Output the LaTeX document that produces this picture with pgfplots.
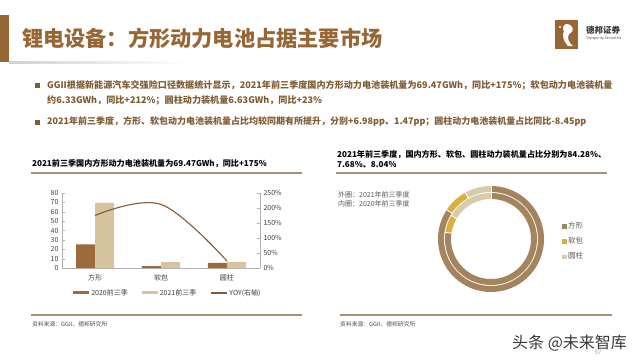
\documentclass[border=0pt]{standalone}
\usepackage{fontspec}
\setmainfont{Noto Sans CJK SC}
\usepackage{pgfplots}
\pgfplotsset{compat=1.18}
\usepackage{pgfplotstable}
\definecolor{titlebrown}{RGB}{150,102,52}
\definecolor{bartwenty}{RGB}{156,106,60}
\definecolor{bartwentyone}{RGB}{214,196,158}
\definecolor{yoyline}{RGB}{130,90,55}
\definecolor{sqc}{RGB}{163,132,94}
\definecolor{softc}{RGB}{218,175,62}
\definecolor{cylc}{RGB}{215,203,170}
\definecolor{bullettext}{RGB}{128,92,52}
\definecolor{rulec}{RGB}{165,145,120}
\newcommand\fs[1]{\fontsize{#1}{#1}\selectfont}

\pgfplotstableread{
cat y2020 y2021 yoy
0 25.26 69.47 175
1 2.03 6.33 212
2 5.39 6.63 23
}\installdata

\begin{document}
\begin{tikzpicture}
\fill[white] (0pt,0pt) rectangle (640pt,-360pt);
% title block
\fill[titlebrown] (0pt,-15pt) rectangle (9pt,-62pt);
\shade[left color=black!18, right color=white] (9pt,-61pt) rectangle (190pt,-63pt);
\node[anchor=west, inner sep=0pt, text=titlebrown, font=\fs{21.2}\bfseries] at (22pt,-38pt) {锂电设备：方形动力电池占据主要市场};
% logo
\fill[titlebrown] (555pt,-20pt) rectangle (578pt,-49pt);
\fill[white] (560pt,-27pt) circle (1.2pt);
\fill[white] (566pt,-24pt) .. controls (574pt,-24pt) and (575pt,-32pt) .. (569pt,-34pt) .. controls (566pt,-38pt) and (570pt,-44pt) .. (573pt,-46pt) -- (568pt,-46pt) .. controls (563pt,-41pt) and (562pt,-35pt) .. (564pt,-31pt) .. controls (562pt,-29pt) and (563pt,-25pt) .. cycle;
\node[anchor=west, inner sep=0pt, text=black!80, font=\fs{8.5}\bfseries] at (586pt,-30pt) {德邦证券};
\node[anchor=west, inner sep=0pt, text=black!70, font=\fs{3.6}] at (586pt,-39pt) {Topsperity Securities};
% bullets
\fill[bullettext] (35pt,-82.5pt) rectangle (40pt,-87.5pt);
\fill[bullettext] (35pt,-119.5pt) rectangle (40pt,-124.5pt);
\node[anchor=west, inner sep=0pt, text=bullettext, font=\fs{9.1}\bfseries] at (47pt,-85pt) {GGII根据新能源汽车交强险口径数据统计显示，2021年前三季度国内方形动力电池装机量为69.47GWh，同比+175\%；软包动力电池装机量};
\node[anchor=west, inner sep=0pt, text=bullettext, font=\fs{9.1}\bfseries] at (47pt,-100pt) {约6.33GWh，同比+212\%；圆柱动力装机量6.63GWh，同比+23\%};
\node[anchor=west, inner sep=0pt, text=bullettext, font=\fs{9.0}\bfseries] at (47pt,-122pt) {2021年前三季度，方形、软包动力电池装机量占比均较同期有所提升，分别+6.98pp、1.47pp；圆柱动力电池装机量占比同比-8.45pp};
% left panel header / footer
\node[anchor=west, inner sep=0pt, text=black, font=\fs{8.1}\bfseries] at (32pt,-164pt) {2021前三季国内方形动力电池装机量为69.47GWh，同比+175\%};
\draw[rulec, line width=1.5pt] (31pt,-173pt) -- (302pt,-173pt);
\draw[rulec, line width=1.5pt] (31pt,-315pt) -- (302pt,-315pt);
\node[anchor=west, inner sep=0pt, text=black!70, font=\fs{5.8}] at (32pt,-324pt) {资料来源：GGII、德邦研究所};
% right panel header / footer
\node[anchor=west, inner sep=0pt, text=black, font=\fs{8.1}\bfseries] at (337pt,-155pt) {2021年前三季度，国内方形、软包、圆柱动力装机量占比分别为84.28\%、};
\node[anchor=west, inner sep=0pt, text=black, font=\fs{8.1}\bfseries] at (337pt,-165pt) {7.68\%、8.04\%};
\draw[rulec, line width=1.5pt] (336pt,-173pt) -- (607pt,-173pt);
\draw[rulec, line width=1.5pt] (340pt,-315pt) -- (612pt,-315pt);
\node[anchor=west, inner sep=0pt, text=black!70, font=\fs{5.8}] at (340pt,-324pt) {资料来源：GGII、德邦研究所};
\node[anchor=west, inner sep=0pt, text=black!65, font=\fs{7}] at (338pt,-195pt) {外圈：2021年前三季度};
\node[anchor=west, inner sep=0pt, text=black!65, font=\fs{7}] at (338pt,-204pt) {内圈：2020年前三季度};
% watermark
\node[anchor=west, inner sep=0pt, text=black!78, font=\fs{16}] at (512pt,-343pt) {头条 @未来智库};
\node[anchor=center, inner sep=0pt, text=black!35, font=\fs{6}] at (598pt,-352pt) {97};

% left chart: bars
\begin{axis}[at={(62pt,-268pt)}, anchor=south west, scale only axis,
  width=198pt, height=75pt,
  xmin=-0.5, xmax=2.5, ymin=0, ymax=80,
  axis y line*=left, axis x line*=bottom,
  axis line style={draw=black!30, -},
  xtick={0,1,2}, xticklabels={方形,软包,圆柱},
  major x tick style={draw=none},
  ytick={0,10,...,80},
  y tick style={draw=black!30},
  tick align=inside, major tick length=3pt,
  tick label style={font=\fs{7}, text=black!75},
  /pgf/number format/assume math mode=true,
  ybar=0pt, bar width=19pt,
  legend style={at={(0.535,-0.333)}, anchor=center, legend columns=3,
    draw=none, fill=none, font=\fs{7}, text=black!75,
    /tikz/every even column/.append style={column sep=12pt}},
  ]
\addplot[fill=bartwenty, draw=none, bar shift=-9.5pt,
  legend image code/.code={\fill[bartwenty] (0pt,-1.5pt) rectangle (16pt,1.5pt);}]
  table[x=cat, y=y2020]{\installdata};
\addlegendentry{2020前三季}
\addplot[fill=bartwentyone, draw=none, bar shift=9.5pt,
  legend image code/.code={\fill[bartwentyone] (0pt,-1.5pt) rectangle (16pt,1.5pt);}]
  table[x=cat, y=y2021]{\installdata};
\addlegendentry{2021前三季}
\addlegendimage{legend image code/.code={\draw[yoyline, line width=1.1pt] (0pt,0pt) -- (16pt,0pt);}}
\addlegendentry{YOY(右轴)}
\end{axis}

% left chart: YOY line
\begin{axis}[at={(62pt,-268pt)}, anchor=south west, scale only axis,
  width=198pt, height=75pt,
  xmin=-0.5, xmax=2.5, ymin=0, ymax=250,
  axis y line*=right, axis x line=none,
  axis line style={draw=black!30, -},
  ytick={0,50,...,250},
  yticklabel={\pgfmathprintnumber{\tick}\%},
  y tick style={draw=black!30},
  tick align=inside, major tick length=3pt,
  tick label style={font=\fs{7}, text=black!75},
  /pgf/number format/assume math mode=true,
  ]
\addplot[yoyline, line width=1.1pt, smooth, tension=0.6, no markers] table[x=cat, y=yoy]{\installdata};
\end{axis}

% right chart: donut
\begin{axis}[at={(491pt,-239pt)}, anchor=center, scale only axis,
  width=106pt, height=106pt, hide axis,
  xmin=-53, xmax=53, ymin=-53, ymax=53,
  legend style={at={(1.14,0.70)}, anchor=north west, draw=none, fill=none,
    font=\fs{7.5}, text=black!65, legend cell align=left, row sep=3.5pt},
  ]
% outer ring 2021: 84.28 / 7.68 / 8.04
\addplot[forget plot, sqc, line width=6pt, domain=0:84.28, samples=90] ({50*sin(3.6*x)},{50*cos(3.6*x)});
\addplot[forget plot, softc, line width=6pt, domain=84.28:91.96, samples=12] ({50*sin(3.6*x)},{50*cos(3.6*x)});
\addplot[forget plot, cylc, line width=6pt, domain=91.96:100, samples=12] ({50*sin(3.6*x)},{50*cos(3.6*x)});
% inner ring 2020: 77.30 / 6.21 / 16.49
\addplot[forget plot, sqc, line width=6pt, domain=0:77.30, samples=90] ({43*sin(3.6*x)},{43*cos(3.6*x)});
\addplot[forget plot, softc, line width=6pt, domain=77.30:83.51, samples=12] ({43*sin(3.6*x)},{43*cos(3.6*x)});
\addplot[forget plot, cylc, line width=6pt, domain=83.51:100, samples=24] ({43*sin(3.6*x)},{43*cos(3.6*x)});
% separators
\addplot[forget plot, white, line width=0.9pt, domain=39:54, samples=2] ({0},{x});
\addplot[forget plot, white, line width=0.9pt, domain=46.5:54, samples=2] ({x*sin(3.6*84.28)},{x*cos(3.6*84.28)});
\addplot[forget plot, white, line width=0.9pt, domain=46.5:54, samples=2] ({x*sin(3.6*91.96)},{x*cos(3.6*91.96)});
\addplot[forget plot, white, line width=0.9pt, domain=39:46.5, samples=2] ({x*sin(3.6*77.30)},{x*cos(3.6*77.30)});
\addplot[forget plot, white, line width=0.9pt, domain=39:46.5, samples=2] ({x*sin(3.6*83.51)},{x*cos(3.6*83.51)});
\addlegendimage{legend image code/.code={\fill[sqc] (0pt,-1.8pt) rectangle (3.6pt,1.8pt);}}
\addlegendentry{方形}
\addlegendimage{legend image code/.code={\fill[softc] (0pt,-1.8pt) rectangle (3.6pt,1.8pt);}}
\addlegendentry{软包}
\addlegendimage{legend image code/.code={\fill[cylc] (0pt,-1.8pt) rectangle (3.6pt,1.8pt);}}
\addlegendentry{圆柱}
\end{axis}
\pgfresetboundingbox
\useasboundingbox (0pt,0pt) rectangle (640pt,-360pt);
\end{tikzpicture}
\end{document}
